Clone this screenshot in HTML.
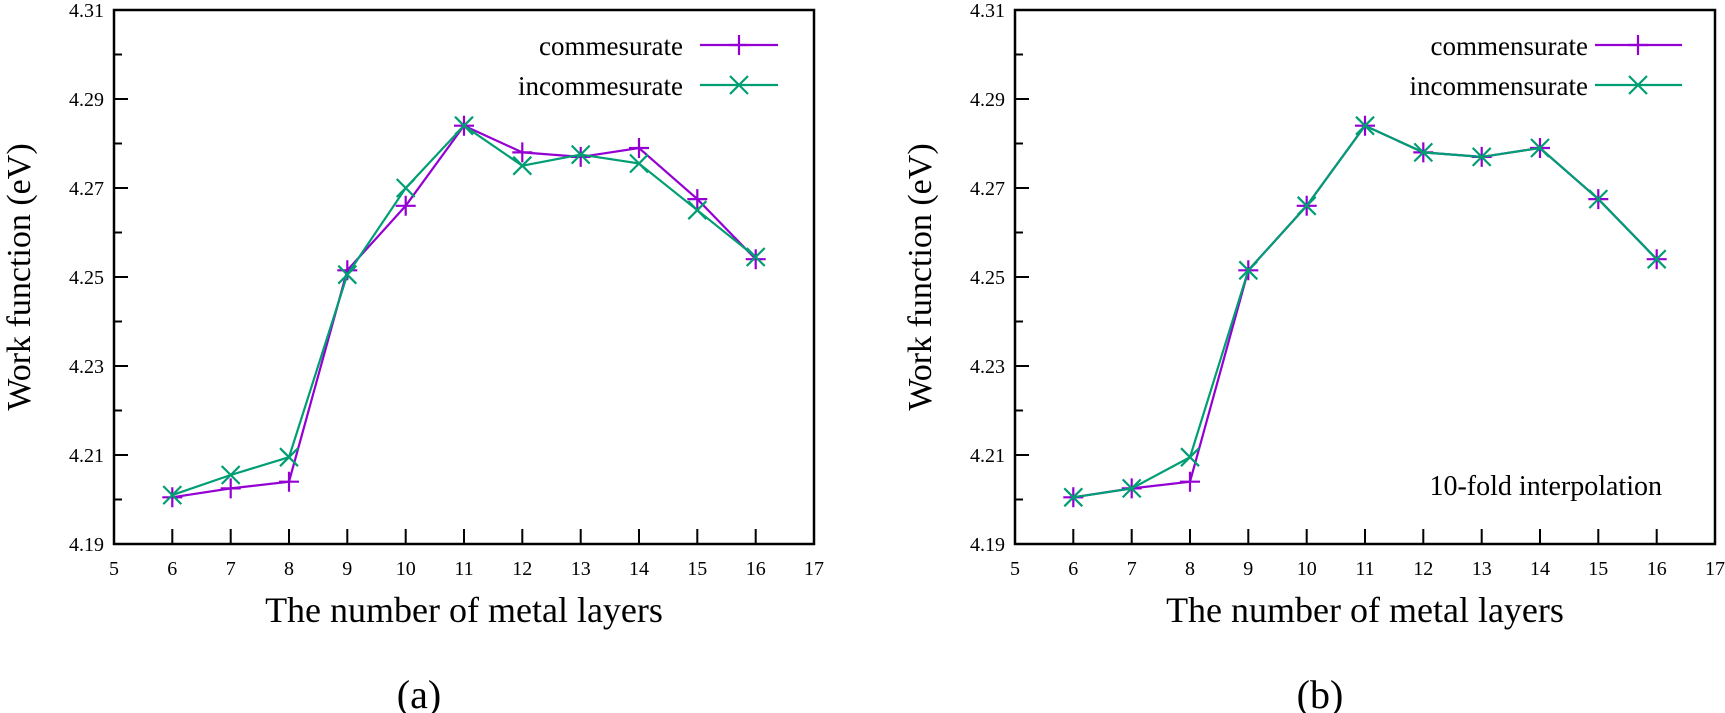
<!DOCTYPE html>
<html><head><meta charset="utf-8"><style>
html,body{margin:0;padding:0;background:#fff;}
svg{display:block;}
text{font-family:"Liberation Serif",serif;fill:#000;}
</style></head><body>
<svg width="1725" height="713" viewBox="0 0 1725 713" xmlns="http://www.w3.org/2000/svg">
<defs>
<g id="plus"><path d="M-10,0H10M0,-10V10" stroke-width="2.2" fill="none"/></g>
<g id="cross"><path d="M-9,-9L9,9M-9,9L9,-9" stroke-width="2.2" fill="none"/></g>
</defs>
<!-- Panel A -->
<g transform="translate(114,10)">
 <rect x="0" y="0" width="700" height="534" fill="none" stroke="#000" stroke-width="2.5"/>
 <g stroke="#000" stroke-width="2">
  <path d="M0,44.5h8M0,89h14M0,133.5h8M0,178h14M0,222.5h8M0,267h14M0,311.5h8M0,356h14M0,400.5h8M0,445h14M0,489.5h8"/>
  <path d="M58.3,534v-15M116.7,534v-15M175,534v-15M233.3,534v-15M291.7,534v-15M350,534v-15M408.3,534v-15M466.7,534v-15M525,534v-15M583.3,534v-15M641.7,534v-15"/>
 </g>
 <g font-size="20" text-anchor="end">
  <text x="-10" y="7">4.31</text><text x="-10" y="96">4.29</text><text x="-10" y="185">4.27</text><text x="-10" y="274">4.25</text><text x="-10" y="363">4.23</text><text x="-10" y="452">4.21</text><text x="-10" y="541">4.19</text>
 </g>
 <g font-size="20" text-anchor="middle">
  <text x="0" y="565">5</text><text x="58.3" y="565">6</text><text x="116.7" y="565">7</text><text x="175" y="565">8</text><text x="233.3" y="565">9</text><text x="291.7" y="565">10</text><text x="350" y="565">11</text><text x="408.3" y="565">12</text><text x="466.7" y="565">13</text><text x="525" y="565">14</text><text x="583.3" y="565">15</text><text x="641.7" y="565">16</text><text x="700" y="565">17</text>
 </g>
 <text x="350" y="612" font-size="36" text-anchor="middle">The number of metal layers</text>
 <text transform="translate(-84,267) rotate(-90)" font-size="34" text-anchor="middle">Work function (eV)</text>
 <text x="569" y="45" font-size="27" text-anchor="end">commesurate</text>
 <text x="569" y="85" font-size="27" text-anchor="end">incommesurate</text>
 <line x1="586" y1="35" x2="664" y2="35" stroke="#9400d3" stroke-width="2.2"/>
 <use href="#plus" x="625" y="35" stroke="#9400d3"/>
 <line x1="586" y1="75" x2="664" y2="75" stroke="#009e73" stroke-width="2.2"/>
 <use href="#cross" x="625" y="75" stroke="#009e73"/>
 <polyline fill="none" stroke="#9400d3" stroke-width="2.2" points="58.3,487.3 116.7,478.4 175,471.7 233.3,260.3 291.7,195.8 350,115.7 408.3,142.4 466.7,146.9 525,138 583.3,189.1 641.7,249.2"/>
 <g stroke="#9400d3"><use href="#plus" x="58.3" y="487.3"/><use href="#plus" x="116.7" y="478.4"/><use href="#plus" x="175" y="471.7"/><use href="#plus" x="233.3" y="260.3"/><use href="#plus" x="291.7" y="195.8"/><use href="#plus" x="350" y="115.7"/><use href="#plus" x="408.3" y="142.4"/><use href="#plus" x="466.7" y="146.9"/><use href="#plus" x="525" y="138"/><use href="#plus" x="583.3" y="189.1"/><use href="#plus" x="641.7" y="249.2"/></g>
 <polyline fill="none" stroke="#009e73" stroke-width="2.2" points="58.3,485.1 116.7,465 175,447.2 233.3,264.7 291.7,178 350,115.7 408.3,155.7 466.7,144.6 525,153.5 583.3,200.2 641.7,247"/>
 <g stroke="#009e73"><use href="#cross" x="58.3" y="485.1"/><use href="#cross" x="116.7" y="465"/><use href="#cross" x="175" y="447.2"/><use href="#cross" x="233.3" y="264.7"/><use href="#cross" x="291.7" y="178"/><use href="#cross" x="350" y="115.7"/><use href="#cross" x="408.3" y="155.7"/><use href="#cross" x="466.7" y="144.6"/><use href="#cross" x="525" y="153.5"/><use href="#cross" x="583.3" y="200.2"/><use href="#cross" x="641.7" y="247"/></g>
</g>
<text x="419" y="708" font-size="40" text-anchor="middle">(a)</text>

<!-- Panel B -->
<g transform="translate(1015,10)">
 <rect x="0" y="0" width="700" height="534" fill="none" stroke="#000" stroke-width="2.5"/>
 <g stroke="#000" stroke-width="2">
  <path d="M0,44.5h8M0,89h14M0,133.5h8M0,178h14M0,222.5h8M0,267h14M0,311.5h8M0,356h14M0,400.5h8M0,445h14M0,489.5h8"/>
  <path d="M58.3,534v-15M116.7,534v-15M175,534v-15M233.3,534v-15M291.7,534v-15M350,534v-15M408.3,534v-15M466.7,534v-15M525,534v-15M583.3,534v-15M641.7,534v-15"/>
 </g>
 <g font-size="20" text-anchor="end">
  <text x="-10" y="7">4.31</text><text x="-10" y="96">4.29</text><text x="-10" y="185">4.27</text><text x="-10" y="274">4.25</text><text x="-10" y="363">4.23</text><text x="-10" y="452">4.21</text><text x="-10" y="541">4.19</text>
 </g>
 <g font-size="20" text-anchor="middle">
  <text x="0" y="565">5</text><text x="58.3" y="565">6</text><text x="116.7" y="565">7</text><text x="175" y="565">8</text><text x="233.3" y="565">9</text><text x="291.7" y="565">10</text><text x="350" y="565">11</text><text x="408.3" y="565">12</text><text x="466.7" y="565">13</text><text x="525" y="565">14</text><text x="583.3" y="565">15</text><text x="641.7" y="565">16</text><text x="700" y="565">17</text>
 </g>
 <text x="350" y="612" font-size="36" text-anchor="middle">The number of metal layers</text>
 <text transform="translate(-84,267) rotate(-90)" font-size="34" text-anchor="middle">Work function (eV)</text>
 <text x="573" y="45" font-size="27" text-anchor="end">commensurate</text>
 <text x="573" y="85" font-size="27" text-anchor="end">incommensurate</text>
 <line x1="580" y1="35" x2="667" y2="35" stroke="#9400d3" stroke-width="2.2"/>
 <use href="#plus" x="623" y="35" stroke="#9400d3"/>
 <line x1="580" y1="75" x2="667" y2="75" stroke="#009e73" stroke-width="2.2"/>
 <use href="#cross" x="623" y="75" stroke="#009e73"/>
 <text x="647" y="485" font-size="28" text-anchor="end">10-fold interpolation</text>
 <polyline fill="none" stroke="#9400d3" stroke-width="2.2" points="58.3,487.3 116.7,478.4 175,471.7 233.3,260.3 291.7,195.8 350,115.7 408.3,142.4 466.7,146.9 525,138 583.3,189.1 641.7,249.2"/>
 <g stroke="#9400d3"><use href="#plus" x="58.3" y="487.3"/><use href="#plus" x="116.7" y="478.4"/><use href="#plus" x="175" y="471.7"/><use href="#plus" x="233.3" y="260.3"/><use href="#plus" x="291.7" y="195.8"/><use href="#plus" x="350" y="115.7"/><use href="#plus" x="408.3" y="142.4"/><use href="#plus" x="466.7" y="146.9"/><use href="#plus" x="525" y="138"/><use href="#plus" x="583.3" y="189.1"/><use href="#plus" x="641.7" y="249.2"/></g>
 <polyline fill="none" stroke="#009e73" stroke-width="2.2" points="58.3,487.3 116.7,478.4 175,447.2 233.3,260.3 291.7,195.8 350,115.7 408.3,142.4 466.7,146.9 525,138 583.3,189.1 641.7,249.2"/>
 <g stroke="#009e73"><use href="#cross" x="58.3" y="487.3"/><use href="#cross" x="116.7" y="478.4"/><use href="#cross" x="175" y="447.2"/><use href="#cross" x="233.3" y="260.3"/><use href="#cross" x="291.7" y="195.8"/><use href="#cross" x="350" y="115.7"/><use href="#cross" x="408.3" y="142.4"/><use href="#cross" x="466.7" y="146.9"/><use href="#cross" x="525" y="138"/><use href="#cross" x="583.3" y="189.1"/><use href="#cross" x="641.7" y="249.2"/></g>
</g>
<text x="1320" y="708" font-size="40" text-anchor="middle">(b)</text>
</svg>
</body></html>
